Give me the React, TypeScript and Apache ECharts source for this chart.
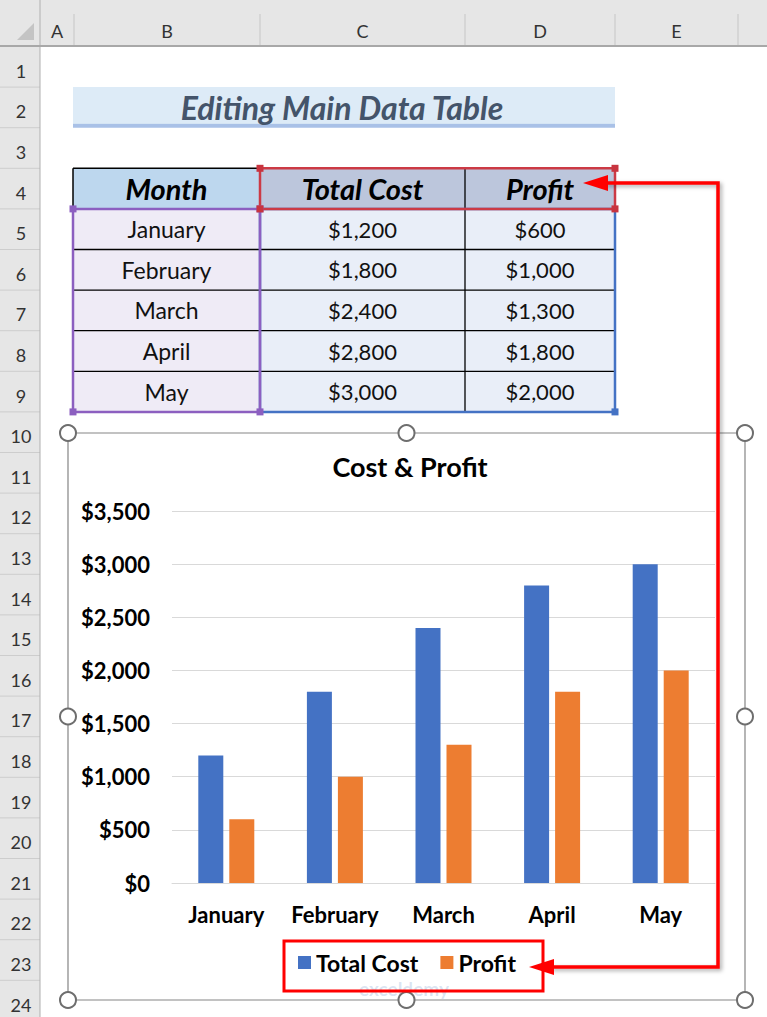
import React, { useEffect, useRef } from "react";
import * as echarts from "echarts";

// ---- data ----
const months = ["January", "February", "March", "April", "May"];
const totalCost = [1200, 1800, 2400, 2800, 3000];
const profit = [600, 1000, 1300, 1800, 2000];
const seriesNames = ["Total Cost", "Profit"];
const tableHeaders = ["Month", "Total Cost", "Profit"];
const sheetTitle = "Editing Main Data Table";
const chartTitle = "Cost & Profit";
const columnLetters = ["A", "B", "C", "D", "E"];
const rowLabels = Array.from({ length: 24 }, (_, i) => String(i + 1));
const yTicks = { min: 0, max: 3500, interval: 500 };

const FONT = "Lato, 'Open Sans', 'Noto Sans', sans-serif";
const money = (v: number) => "$" + v.toLocaleString("en-US");

export default function App() {
  const ref = useRef<HTMLDivElement>(null);
  useEffect(() => {
    if (!ref.current) return;
    const chart = echarts.init(ref.current, undefined, { renderer: "svg" });

    const colX = [40, 74, 260, 465, 615, 738];
    const rowTop = 46.5;
    const rowH = 40.6;
    const rowY = (r: number) => rowTop + (r - 1) * rowH; // top of row r

    const g: any[] = [];
    // sheet headers
    g.push({ type: "rect", shape: { x: 0, y: 0, width: 767, height: 46 }, style: { fill: "#e6e6e6" }, z: 1 });
    g.push({ type: "rect", shape: { x: 0, y: 46, width: 40, height: 971 }, style: { fill: "#e6e6e6" }, z: 1 });
    g.push({ type: "polygon", shape: { points: [[34, 23], [34, 40], [17, 40]] }, style: { fill: "#c4c4c4" }, z: 2 });
    for (let i = 1; i < colX.length; i++) {
      g.push({ type: "line", shape: { x1: colX[i], y1: 14, x2: colX[i], y2: 46 }, style: { stroke: "#c6c6c6", lineWidth: 1 }, z: 2 });
    }
    columnLetters.forEach((c, i) => {
      g.push({
        type: "text", x: (colX[i] + colX[i + 1]) / 2, y: 31,
        style: { text: c, fontSize: 18, fontFamily: FONT, fill: "#333", align: "center", verticalAlign: "middle" }, z: 3,
      });
    });
    rowLabels.forEach((r, i) => {
      const top = rowY(i + 1);
      g.push({ type: "line", shape: { x1: 0, y1: top + rowH, x2: 40, y2: top + rowH }, style: { stroke: "#cdcdcd", lineWidth: 1 }, z: 2 });
      g.push({
        type: "text", x: 21, y: top + rowH / 2 + 4,
        style: { text: r, fontSize: 18, fontFamily: FONT, fill: "#333", align: "center", verticalAlign: "middle" }, z: 3,
      });
    });
    g.push({ type: "line", shape: { x1: 40, y1: 0, x2: 40, y2: 1017 }, style: { stroke: "#b0b0b0", lineWidth: 1 }, z: 2 });
    g.push({ type: "line", shape: { x1: 0, y1: 46, x2: 767, y2: 46 }, style: { stroke: "#a8a8a8", lineWidth: 2 }, z: 2 });

    // sheet title
    const tX = 73, tW = 542;
    g.push({ type: "rect", shape: { x: tX, y: rowY(2), width: tW, height: rowH - 4 }, style: { fill: "#ddebf7" }, z: 1 });
    g.push({ type: "rect", shape: { x: tX, y: rowY(3) - 4, width: tW, height: 4 }, style: { fill: "#a9c1e7" }, z: 1 });
    g.push({
      type: "text", x: 342, y: 107,
      style: { text: sheetTitle, fontSize: 32, fontWeight: "bold", fontStyle: "italic", fontFamily: FONT, fill: "#44546a", align: "center", verticalAlign: "middle" }, z: 3,
    });

    // table fills
    const bL = 73, cL = 260, dL = 465, dR = 615;
    const hTop = rowY(4), dTop = rowY(5), dBot = rowY(10);
    g.push({ type: "rect", shape: { x: bL, y: hTop, width: cL - bL, height: rowH }, style: { fill: "#bdd7ee" }, z: 1 });
    g.push({ type: "rect", shape: { x: cL, y: hTop, width: dR - cL, height: rowH }, style: { fill: "#bcc6dc" }, z: 1 });
    g.push({ type: "rect", shape: { x: bL, y: dTop, width: cL - bL, height: dBot - dTop }, style: { fill: "#efebf6" }, z: 1 });
    g.push({ type: "rect", shape: { x: cL, y: dTop, width: dR - cL, height: dBot - dTop }, style: { fill: "#e9eef8" }, z: 1 });
    // table lines
    for (let r = 6; r <= 9; r++) {
      g.push({ type: "line", shape: { x1: bL, y1: rowY(r), x2: dR, y2: rowY(r) }, style: { stroke: "#000", lineWidth: 1.3 }, z: 2 });
    }
    g.push({ type: "line", shape: { x1: bL, y1: hTop, x2: cL, y2: hTop }, style: { stroke: "#000", lineWidth: 1.5 }, z: 2 });
    g.push({ type: "line", shape: { x1: bL, y1: hTop, x2: bL, y2: dTop }, style: { stroke: "#000", lineWidth: 1.5 }, z: 2 });
    g.push({ type: "line", shape: { x1: dL, y1: hTop, x2: dL, y2: dBot }, style: { stroke: "#000", lineWidth: 1.3 }, z: 2 });
    // table texts
    const colCenters = [(bL + cL) / 2, (cL + dL) / 2, (dL + dR) / 2];
    tableHeaders.forEach((h, i) => {
      g.push({
        type: "text", x: colCenters[i], y: hTop + rowH / 2,
        style: { text: h, fontSize: 29, fontWeight: "bold", fontStyle: "italic", fontFamily: FONT, fill: "#000", align: "center", verticalAlign: "middle" }, z: 3,
      });
    });
    months.forEach((m, i) => {
      const cy = rowY(5 + i) + rowH / 2;
      [m, money(totalCost[i]), money(profit[i])].forEach((t, j) => {
        g.push({
          type: "text", x: colCenters[j], y: cy,
          style: { text: t, fontSize: j === 0 ? 23 : 22, fontFamily: FONT, fill: "#111", align: "center", verticalAlign: "middle" }, z: 3,
        });
      });
    });
    // selection outlines
    const sel = (x: number, y: number, w: number, h: number, c: string) =>
      g.push({ type: "rect", shape: { x, y, width: w, height: h }, style: { fill: "none", stroke: c, lineWidth: 2.5 }, z: 4 });
    const handle = (x: number, y: number, c: string) =>
      g.push({ type: "rect", shape: { x: x - 3.5, y: y - 3.5, width: 7, height: 7 }, style: { fill: c }, z: 5 });
    sel(cL, dTop, dR - cL, dBot - dTop, "#4472c4");
    handle(dR, dBot, "#4472c4");
    sel(bL, dTop, cL - bL, dBot - dTop, "#8c5fc0");
    [[bL, dTop], [cL, dTop], [bL, dBot], [cL, dBot]].forEach(([x, y]) => handle(x, y, "#8c5fc0"));
    sel(cL, hTop, dR - cL, rowH, "#cc3a45");
    [[cL, hTop], [dR, hTop], [cL, dTop], [dR, dTop]].forEach(([x, y]) => handle(x, y, "#c8343f"));

    // chart frame & handles
    const cx0 = 68, cy0 = 433, cx1 = 745, cy1 = 1000;
    g.push({ type: "rect", shape: { x: cx0, y: cy0, width: cx1 - cx0, height: cy1 - cy0 }, style: { fill: "none", stroke: "#858585", lineWidth: 1.2 }, z: 4 });
    const mx = (cx0 + cx1) / 2, my = (cy0 + cy1) / 2;
    [[cx0, cy0], [mx, cy0], [cx1, cy0], [cx0, my], [cx1, my], [cx0, cy1], [mx, cy1], [cx1, cy1]].forEach(([x, y]) =>
      g.push({ type: "circle", shape: { cx: x, cy: y, r: 8 }, style: { fill: "#fff", stroke: "#6e6e6e", lineWidth: 2 }, z: 6 })
    );

    // watermark
    g.push({
      type: "text", x: 404, y: 988,
      style: { text: "exceldemy", fontSize: 19, fontWeight: "bold", fontFamily: FONT, fill: "rgba(130,160,210,0.28)", align: "center", verticalAlign: "middle" }, z: 3,
    });

    // red arrows and legend box
    const shadow = { shadowBlur: 4, shadowOffsetX: 2, shadowOffsetY: 2, shadowColor: "rgba(0,0,0,0.35)" };
    g.push({ type: "rect", shape: { x: 284, y: 941, width: 259, height: 50 }, style: { fill: "none", stroke: "#ff0000", lineWidth: 3 }, z: 7 });
    g.push({
      type: "polyline", shape: { points: [[604, 183], [718, 183], [718, 967], [550, 967]] },
      style: { stroke: "#ff0000", lineWidth: 3.5, fill: "none", ...shadow }, z: 7,
    });
    g.push({ type: "polygon", shape: { points: [[583, 183], [608, 175], [608, 191]] }, style: { fill: "#ff0000" }, z: 8 });
    g.push({ type: "polygon", shape: { points: [[529, 967], [554, 959], [554, 975]] }, style: { fill: "#ff0000" }, z: 8 });

    chart.setOption({
      animation: false,
      backgroundColor: "#ffffff",
      title: {
        text: chartTitle, left: 405, top: 448, textAlign: "center",
        textStyle: { fontFamily: FONT, fontSize: 27, fontWeight: "bold", color: "#000" },
      },
      legend: {
        data: seriesNames, left: 298, top: 951, padding: 0, icon: "rect", itemWidth: 13, itemHeight: 13, itemGap: 22,
        selectedMode: false,
        textStyle: { fontFamily: FONT, fontSize: 23, fontWeight: "bold", color: "#000" },
      },
      grid: { left: 172, right: 52, top: 511, bottom: 134, containLabel: false },
      xAxis: {
        type: "category", data: months,
        axisLine: { lineStyle: { color: "#d9d9d9", width: 1 } },
        axisTick: { show: false },
        axisLabel: { interval: 0, fontFamily: FONT, fontSize: 22, fontWeight: "bold", color: "#000", margin: 20 },
      },
      yAxis: {
        type: "value", min: yTicks.min, max: yTicks.max, interval: yTicks.interval,
        axisLine: { show: false }, axisTick: { show: false },
        splitLine: { lineStyle: { color: "#d9d9d9", width: 1 } },
        axisLabel: { fontFamily: FONT, fontSize: 22, fontWeight: "bold", color: "#000", margin: 22, formatter: (v: number) => money(v) },
      },
      series: [
        { name: seriesNames[0], type: "bar", data: totalCost, barWidth: 25, barGap: "24%", itemStyle: { color: "#4472c4" } },
        { name: seriesNames[1], type: "bar", data: profit, barWidth: 25, barGap: "24%", itemStyle: { color: "#ed7d31" } },
      ],
      graphic: { elements: g },
    });
    return () => chart.dispose();
  }, []);
  return <div ref={ref} style={{ position: "absolute", left: 0, top: 0, width: 767, height: 1017 }} />;
}
